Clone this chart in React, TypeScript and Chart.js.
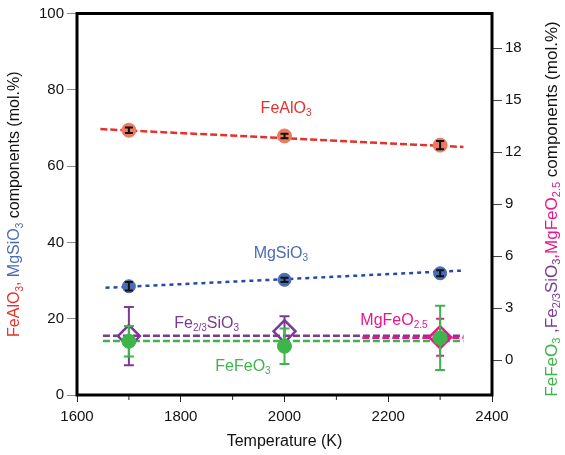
import React, { useEffect, useRef } from 'react';
import { Chart, registerables } from 'chart.js';
Chart.register(...registerables);

// ---- data ----
const temps = [1700, 2000, 2300];
const feAlO3 = [69.4, 67.9, 65.5];
const feAlO3Err = [0.7, 0.6, 1.1];
const mgSiO3 = [28.5, 30.2, 31.9];
const mgSiO3Err = [1.1, 0.55, 0.8];
const fe23Temps = [1700, 2000];
const fe23SiO3 = [1.4, 1.67];
const fe23SiO3Err = [1.68, 0.87];
const feFeO3 = [1.1, 0.81, 1.29];
const feFeO3Err = [0.88, 1.02, 1.85];
const mgFeTemps = [2300];
const mgFeO25 = [1.33];
const mgFeO25Err = [1.07];

const fitFeAlO3X = [1645, 2345];
const fitFeAlO3Y = [69.7, 65.0];
const fitMgSiO3X = [1655, 2340];
const fitMgSiO3Y = [28.1, 32.6];
const fitFe23X = [1650, 2345];
const fitFe23Y = [1.42, 1.42];
const fitFeFeX = [1650, 2345];
const fitFeFeY = [1.12, 1.12];
const fitMgFeX = [2150, 2345];
const fitMgFeY = [1.3, 1.3];

const xTicks = [1600, 1700, 1800, 1900, 2000, 2100, 2200, 2300, 2400];
const xLabelTicks = [1600, 1800, 2000, 2200, 2400];
const leftTicks = [0, 20, 40, 60, 80, 100];
const rightTicks = [0, 3, 6, 9, 12, 15, 18];

const FONT = "'Liberation Sans', Arial, Helvetica, sans-serif";
const RED = '#e4322b';
const SALMON = '#ee7a5f';
const BLUE = '#254c9f';
const BLUE_M = '#4a6cb5';
const GREEN = '#3db54a';
const PURPLE = '#7b3a96';
const PINK = '#e3198b';

type Seg = { t: string; c: string; sub?: boolean };

const pts = (xs: number[], ys: number[]) => xs.map((x, i) => ({ x, y: ys[i] }));

function segFont(size: number, sub?: boolean) {
  return `${sub ? Math.round(size * 0.64) : size}px ${FONT}`;
}
function richWidth(ctx: CanvasRenderingContext2D, segs: Seg[], size: number) {
  let w = 0;
  for (const s of segs) {
    ctx.font = segFont(size, s.sub);
    w += ctx.measureText(s.t).width;
  }
  return w;
}
function drawRich(ctx: CanvasRenderingContext2D, segs: Seg[], x: number, y: number, size: number, rotate = false) {
  ctx.save();
  ctx.translate(x, y);
  if (rotate) ctx.rotate(-Math.PI / 2);
  const w = richWidth(ctx, segs, size);
  let cx = -w / 2;
  ctx.textBaseline = 'middle';
  ctx.textAlign = 'left';
  for (const s of segs) {
    ctx.font = segFont(size, s.sub);
    ctx.fillStyle = s.c;
    ctx.fillText(s.t, cx, s.sub ? size * 0.3 : 0);
    cx += ctx.measureText(s.t).width;
  }
  ctx.restore();
}

const errConf: Record<string, { err: number[]; color: string; cap: number; lw: number }> = {
  FeAlO3: { err: feAlO3Err, color: '#111', cap: 8, lw: 2 },
  MgSiO3: { err: mgSiO3Err, color: '#111', cap: 8, lw: 2 },
  Fe23SiO3: { err: fe23SiO3Err, color: PURPLE, cap: 10, lw: 2 },
  MgFeO25: { err: mgFeO25Err, color: PINK, cap: 8, lw: 2 },
  FeFeO3: { err: feFeO3Err, color: GREEN, cap: 10, lw: 2 },
};

const labels: { segs: Seg[]; x: number; y: number; axis: string }[] = [
  { segs: [{ t: 'FeAlO', c: RED }, { t: '3', c: RED, sub: true }], x: 2003, y: 75.2, axis: 'y' },
  { segs: [{ t: 'MgSiO', c: BLUE_M }, { t: '3', c: BLUE_M, sub: true }], x: 1993, y: 37, axis: 'y' },
  { segs: [{ t: 'Fe', c: PURPLE }, { t: '2/3', c: PURPLE, sub: true }, { t: 'SiO', c: PURPLE }, { t: '3', c: PURPLE, sub: true }], x: 1850, y: 2.13, axis: 'y2' },
  { segs: [{ t: 'FeFeO', c: GREEN }, { t: '3', c: GREEN, sub: true }], x: 1920, y: -0.35, axis: 'y2' },
  { segs: [{ t: 'MgFeO', c: PINK }, { t: '2.5', c: PINK, sub: true }], x: 2211, y: 2.3, axis: 'y2' },
];

const leftTitle: Seg[] = [
  { t: 'FeAlO', c: RED }, { t: '3', c: RED, sub: true }, { t: ', ', c: RED },
  { t: 'MgSiO', c: BLUE_M }, { t: '3', c: BLUE_M, sub: true }, { t: ' components (mol.%)', c: '#111' },
];
const rightTitle: Seg[] = [
  { t: 'FeFeO', c: GREEN }, { t: '3', c: GREEN, sub: true }, { t: ' ,', c: PURPLE },
  { t: 'Fe', c: PURPLE }, { t: '2/3', c: PURPLE, sub: true }, { t: 'SiO', c: PURPLE }, { t: '3', c: PURPLE, sub: true },
  { t: ',', c: PINK }, { t: 'MgFeO', c: PINK }, { t: '2.5', c: PINK, sub: true }, { t: ' components (mol.%)', c: '#111' },
];

const customPlugin = {
  id: 'custom',
  afterDatasetDraw(chart: any, args: any) {
    const ds = chart.data.datasets[args.index];
    const conf = errConf[ds.label];
    if (!conf) return;
    const ctx: CanvasRenderingContext2D = chart.ctx;
    const ys = chart.scales[ds.yAxisID];
    const xs = chart.scales.x;
    ctx.save();
    ctx.strokeStyle = conf.color;
    ctx.lineWidth = conf.lw;
    ds.data.forEach((p: any, i: number) => {
      const px = xs.getPixelForValue(p.x);
      const top = ys.getPixelForValue(p.y + conf.err[i]);
      const bot = ys.getPixelForValue(p.y - conf.err[i]);
      ctx.beginPath();
      ctx.moveTo(px, top); ctx.lineTo(px, bot);
      ctx.moveTo(px - conf.cap / 2, top); ctx.lineTo(px + conf.cap / 2, top);
      ctx.moveTo(px - conf.cap / 2, bot); ctx.lineTo(px + conf.cap / 2, bot);
      ctx.stroke();
    });
    ctx.restore();
  },
  afterDraw(chart: any) {
    const ctx: CanvasRenderingContext2D = chart.ctx;
    const a = chart.chartArea;
    const xs = chart.scales.x;
    ctx.save();
    // minor x ticks
    ctx.strokeStyle = '#222';
    ctx.lineWidth = 1;
    xTicks.filter((v) => !xLabelTicks.includes(v)).forEach((v) => {
      const px = xs.getPixelForValue(v);
      ctx.beginPath();
      ctx.moveTo(px, a.bottom); ctx.lineTo(px, a.bottom + 5);
      ctx.stroke();
    });
    // frame
    ctx.strokeStyle = '#000';
    ctx.lineWidth = 3;
    ctx.strokeRect(a.left, a.top, a.right - a.left, a.bottom - a.top);
    // labels
    labels.forEach((l) => {
      drawRich(ctx, l.segs, xs.getPixelForValue(l.x), chart.scales[l.axis].getPixelForValue(l.y), 16);
    });
    // axis titles
    drawRich(ctx, leftTitle, 15, (a.top + a.bottom) / 2, 16, true);
    drawRich(ctx, rightTitle, 552, 209, 17, true);
    ctx.font = `16px ${FONT}`;
    ctx.fillStyle = '#111';
    ctx.textAlign = 'center';
    ctx.textBaseline = 'middle';
    ctx.fillText('Temperature (K)', (a.left + a.right) / 2, 442);
    ctx.restore();
  },
};

export default function App() {
  const ref = useRef<HTMLCanvasElement>(null);
  useEffect(() => {
    document.body.style.margin = '0';
    const fitLine = (label: string, xs: number[], ys: number[], color: string, dash: number[], axis: string, order: number, lw = 2.5) => ({
      type: 'line' as const,
      label,
      data: pts(xs, ys),
      borderColor: color,
      borderWidth: lw,
      borderDash: dash,
      pointRadius: 0,
      showLine: true,
      fill: false,
      yAxisID: axis,
      order,
    });
    const chart = new Chart(ref.current as HTMLCanvasElement, {
      type: 'scatter',
      data: {
        datasets: [
          {
            label: 'MgSiO3', data: pts(temps, mgSiO3), yAxisID: 'y', order: 1,
            pointStyle: 'circle', pointRadius: 6.5, backgroundColor: BLUE_M, borderColor: BLUE_M, borderWidth: 1,
          },
          {
            label: 'FeAlO3', data: pts(temps, feAlO3), yAxisID: 'y', order: 2,
            pointStyle: 'circle', pointRadius: 7, backgroundColor: SALMON, borderColor: SALMON, borderWidth: 1,
          },
          {
            label: 'FeFeO3', data: pts(temps, feFeO3), yAxisID: 'y2', order: 3,
            pointStyle: 'circle', pointRadius: 7, backgroundColor: GREEN, borderColor: GREEN, borderWidth: 1,
          },
          {
            label: 'MgFeO25', data: pts(mgFeTemps, mgFeO25), yAxisID: 'y2', order: 4,
            pointStyle: 'rectRot', pointRadius: 11, backgroundColor: 'rgba(0,0,0,0)', borderColor: PINK, borderWidth: 2.5,
          },
          {
            label: 'Fe23SiO3', data: pts(fe23Temps, fe23SiO3), yAxisID: 'y2', order: 5,
            pointStyle: 'rectRot', pointRadius: 11, backgroundColor: 'rgba(0,0,0,0)', borderColor: PURPLE, borderWidth: 2.5,
          },
          fitLine('fitFeAlO3', fitFeAlO3X, fitFeAlO3Y, RED, [7, 3], 'y', 6),
          fitLine('fitMgSiO3', fitMgSiO3X, fitMgSiO3Y, BLUE, [4, 4], 'y', 7),
          fitLine('fitFeFe', fitFeFeX, fitFeFeY, GREEN, [7, 3], 'y2', 8),
          fitLine('fitMgFe', fitMgFeX, fitMgFeY, PINK, [7, 3], 'y2', 9),
          fitLine('fitFe23', fitFe23X, fitFe23Y, PURPLE, [7, 3], 'y2', 10),
        ] as any,
      },
      options: {
        animation: false,
        responsive: false,
        devicePixelRatio: 1,
        layout: { padding: { top: 12, left: 0, right: 0, bottom: 0 } },
        plugins: { legend: { display: false }, tooltip: { enabled: false } },
        scales: {
          x: {
            type: 'linear', min: 1600, max: 2400,
            afterBuildTicks: (s: any) => { s.ticks = xTicks.map((v) => ({ value: v })); },
            afterFit: (s: any) => { s.height = 60; },
            ticks: {
              autoSkip: false, maxRotation: 0, padding: 6, color: '#111',
              font: { family: FONT, size: 15 },
              callback: (v: any) => (xLabelTicks.includes(Number(v)) ? String(v) : ''),
            },
            grid: {
              drawOnChartArea: false, drawTicks: true, tickLength: 7, tickWidth: 1,
              tickColor: (c: any) => (c.tick && xLabelTicks.includes(c.tick.value) ? '#222' : 'rgba(0,0,0,0)'),
            },
            border: { display: false },
          },
          y: {
            type: 'linear', position: 'left', min: 0, max: 100,
            afterBuildTicks: (s: any) => { s.ticks = leftTicks.map((v) => ({ value: v })); },
            afterFit: (s: any) => { s.width = 77; },
            ticks: { padding: 3, color: '#111', font: { family: FONT, size: 15 } },
            grid: { drawOnChartArea: false, drawTicks: true, tickLength: 10, tickColor: '#888', tickWidth: 1 },
            border: { display: false },
          },
          y2: {
            type: 'linear', position: 'right', min: -2, max: 20,
            afterBuildTicks: (s: any) => { s.ticks = rightTicks.map((v) => ({ value: v })); },
            afterFit: (s: any) => { s.width = 73; },
            ticks: { padding: 3, color: '#111', font: { family: FONT, size: 15 } },
            grid: { drawOnChartArea: false, drawTicks: true, tickLength: 10, tickColor: '#444', tickWidth: 1 },
            border: { display: false },
          },
        },
      } as any,
      plugins: [customPlugin],
    });
    return () => chart.destroy();
  }, []);
  return (
    <div style={{ position: 'absolute', left: 0, top: 0, width: 565, height: 455 }}>
      <canvas ref={ref} width={565} height={455} style={{ width: 565, height: 455 }} />
    </div>
  );
}
